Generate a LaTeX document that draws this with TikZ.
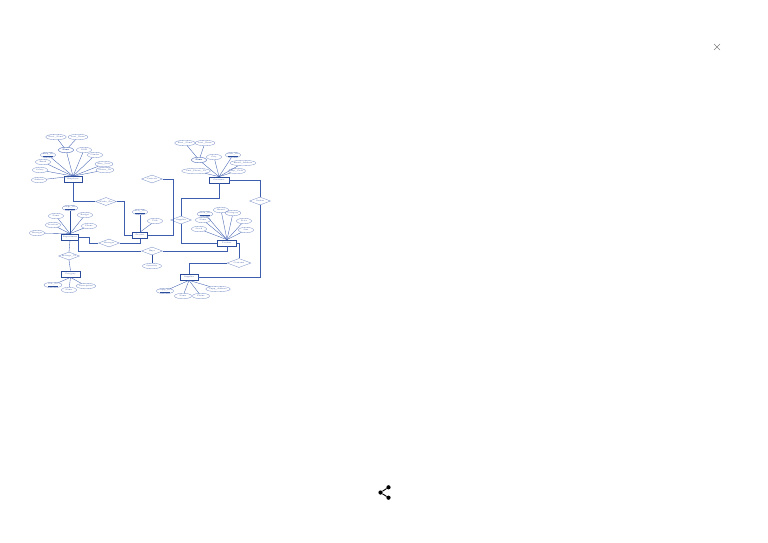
\documentclass[tikz,border=0pt]{standalone}
\usetikzlibrary{shapes.geometric}
\definecolor{erblue}{HTML}{2B4C9B}
\definecolor{linkblue}{HTML}{3D5DAE}
\definecolor{attrblue}{HTML}{7088C4}
\newcommand{\erfont}{\fontsize{2}{2.2}\selectfont}
\tikzset{
  entity/.style={draw=erblue, line width=0.7pt, minimum width=18pt, minimum height=6pt, inner sep=0pt, font=\erfont, text=erblue},
  attr/.style={ellipse, draw=attrblue, line width=0.3pt, minimum width=15pt, minimum height=5.5pt, inner sep=0pt, font=\erfont, text=erblue},
  rel/.style={diamond, aspect=2.6, draw=attrblue, line width=0.3pt, minimum width=21pt, minimum height=8pt, inner sep=0pt, font=\erfont, text=erblue},
  link/.style={draw=linkblue, line width=0.35pt},
  total/.style={draw=erblue, line width=0.9pt},
  dot/.style={circle, fill=black, inner sep=0pt, minimum size=4.2pt}
}

\begin{document}
\begin{tikzpicture}[x=1pt, y=-1pt]
  \useasboundingbox (0,0) rectangle (768,543);
  % entities
  \node[entity] (emp) at (73,179.5) {Employee};
  \node[entity, minimum width=17pt] (dept) at (70,237) {Department};
  \node[entity, minimum width=15pt] (proj) at (140,235.5) {Project};
  \node[entity, minimum width=20pt] (cust) at (219,180) {Customer};
  \node[entity, minimum width=19pt] (prod) at (227,243) {Product};
  \node[entity] (supp) at (189,277) {Supplier};
  \node[entity, minimum width=19pt] (cat) at (70.5,274) {Category};
  % relationships
  \node[rel] (r1) at (106,201.5) {Works\_For};
  \node[rel] (r2) at (109,243) {Manages};
  \node[rel] (r3) at (181,220) {Supplies};
  \node[rel] (r4) at (260,201) {Orders};
  \node[rel, minimum width=24pt, minimum height=9pt] (r5) at (239,263) {Contains};
  \node[rel] (r6) at (69,256) {Belongs\_To};
  \node[rel] (r7) at (152,251) {Buys};
  \node[rel] (r8) at (152,179) {Controls};
  \node[attr, minimum width=19pt] (ra7) at (152,266) {Quantity};
  \draw[total] (r7) -- (ra7);
  % employee attributes
  \node[attr] (e1) at (56,137) {First\_Name};
  \node[attr] (e2) at (78,137) {Last\_Name};
  \node[attr] (e3) at (66,150) {Name};
  \draw[link] (e1) -- (e3);
  \draw[link] (e2) -- (e3);
  \node[attr] (ek) at (48,155) {\underline{Emp\_ID}};
  \draw[link] (ek) -- (emp.north);
  \foreach \n/\x/\y/\txt in {e3/66/150/Name, e4/84/150/DOB, e6/95/155/Gender, e7/43/162/Email,
      e8/104/164/Hire\_Date, e9/40/170/Salary, e10/105/170/Phone\_No, e11/39/180/Address}
  {
    \node[attr] (\n) at (\x,\y) {\txt};
    \draw[link] (\n) -- (emp.north);
  }
  % department attributes
  \node[attr] (dk) at (70,208) {\underline{Dept\_ID}};
  \draw[total] (dk) -- (dept.north);
  \foreach \n/\x/\y/\txt in {d2/56/216/Name, d3/85/215/Budget, d4/53/225/Location, d5/89/226/Phone, d6/37/233/Manager}
  {
    \node[attr] (\n) at (\x,\y) {\txt};
    \draw[link] (\n) -- (dept.north);
  }
  % project attributes
  \node[attr] (pk) at (140,212) {\underline{Proj\_ID}};
  \node[attr] (p2) at (155,221) {Title};
  \draw[link] (pk) -- (proj.north);
  \draw[link] (p2) -- (proj.north);
  % customer attributes
  \node[attr] (c1) at (185,143) {First\_Name};
  \node[attr] (c2) at (205,143) {Last\_Name};
  \node[attr] (c3) at (199,160) {Name};
  \draw[link] (c1) -- (c3);
  \draw[link] (c2) -- (c3);
  \node[attr] (ck) at (233,155) {\underline{Cust\_ID}};
  \draw[link] (ck) -- (cust.north);
  \foreach \n/\x/\y/\txt in {c3/199/160/Name, c4/214/157/City, c5/243/163/Email\_Address, c6/237/171/Zip\_Code}
  {
    \node[attr] (\n) at (\x,\y) {\txt};
    \draw[link] (\n) -- (cust.north);
  }
  \node[attr, minimum width=23pt] (c7) at (196,171) {Cust\_Phone\_No};
  \draw[link] (c7) -- (cust.north);
  % product attributes
  \node[attr] (qk) at (205,214) {\underline{Prod\_ID}};
  \draw[link] (qk) -- (prod.north);
  \foreach \n/\x/\y/\txt in {q2/221/210/Brand, q3/233/213/Category, q4/203/220/Name,
      q5/199/229/Stock, q6/244/221/Price, q7/246/230/Size}
  {
    \node[attr] (\n) at (\x,\y) {\txt};
    \draw[link] (\n) -- (prod.north);
  }
  % supplier attributes
  \node[attr, minimum width=17pt] (sk) at (165,291) {\underline{Supp\_ID}};
  \draw[link] (sk) -- (supp.south);
  \foreach \n/\x/\y/\txt in {s2/183/296/Name, s3/201/296/Phone, s4/218/289/Supp\_Address}
  {
    \node[attr, minimum width=17pt] (\n) at (\x,\y) {\txt};
    \draw[link] (\n) -- (supp.south);
  }
  % category attributes
  \node[attr, minimum width=18pt] (gk) at (53,285) {\underline{Cat\_ID}};
  \draw[link] (gk) -- (cat.south);
  \node[attr] (g2) at (69,290) {Name};
  \node[attr, minimum width=18pt] (g3) at (86,286) {Description};
  \draw[link] (g2) -- (cat.south);
  \draw[link] (g3) -- (cat.south);
  % connectors
  \draw[link] (emp.south) |- (r1.west);
  \draw[link] (r1.east) -- ++(8,0) |- (proj.west);
  \draw[link] (r8.east) -- ++(11,0) |- (proj.east);
  \draw[link] (dept.east) -- ++(10,0) |- (r2.west);
  \draw[link] (r2.east) -| (proj.south);
  \draw[link] (dept.south) -- (r6.north);
  \draw[link] (r6.south) -- (cat.north);
  \draw[link] ([xshift=-1pt]dept.south east) |- (r7.west);
  \draw[link] (r7.east) -| (prod.south);
  \draw[link] (cust.south) -- ++(0,15) -| (r3.north);
  \draw[link] (r3.south) |- (prod.west);
  \draw[link] (cust.east) -| (r4.north);
  \draw[link] (r4.south) |- (supp.east);
  \draw[link] (prod.east) -| (r5.north);
  \draw[link] (r5.west) -| (supp.north);
  % close mark
  \draw[gray, line width=0.6pt] (714,44) -- (720,50) (714,50) -- (720,44);
  % share icon
  \node[dot] (s1) at (380.5,492.5) {};
  \node[dot] (s2) at (388.5,487.3) {};
  \node[dot] (s3) at (388.5,497.7) {};
  \draw[line width=0.9pt] (s2) -- (s1) -- (s3);
\end{tikzpicture}
\end{document}
